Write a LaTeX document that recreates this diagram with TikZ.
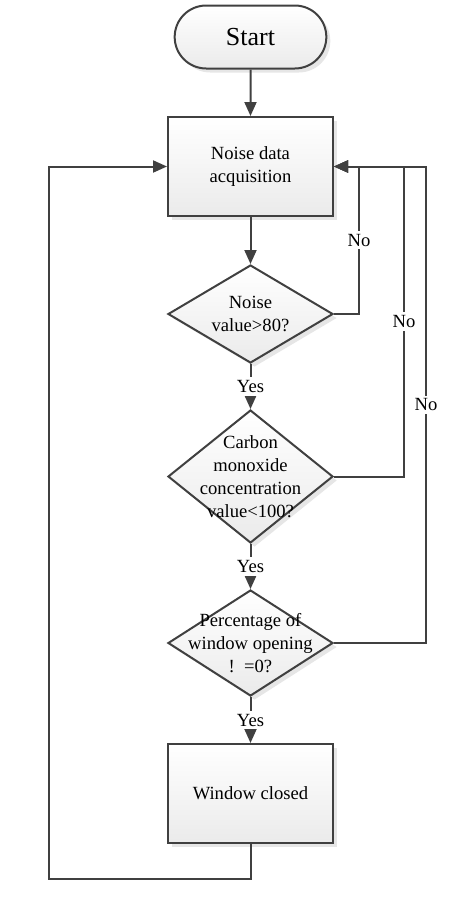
\documentclass[tikz,border=0pt]{standalone}
\usepackage{fontspec}
\setmainfont{Liberation Serif}
\usetikzlibrary{arrows.meta,shapes.geometric,shapes.misc,shadows}
\definecolor{linegray}{HTML}{404040}

\begin{document}
\begin{tikzpicture}[x=0.5pt, y=-0.5pt, line width=1pt, draw=linegray,
		>={Triangle[width=6pt,length=7pt]},
		every node/.style={font=\fontsize{9.3}{11.5}\selectfont, text=black},
		flow/.style={draw=linegray, line width=1pt, top color=white, bottom color=gray!16,
			drop shadow={shadow xshift=2pt, shadow yshift=-2pt, opacity=0.2}},
		term/.style={flow, rounded rectangle, minimum width=82.5pt, minimum height=31.5pt,
			font=\fontsize{13}{15}\selectfont},
		proc/.style={flow, rectangle, minimum width=82.5pt, minimum height=49.5pt, align=center},
		decide/.style={flow, diamond, inner sep=0pt, minimum width=82.5pt},
		tag/.style={fill=white, inner sep=1.5pt}]
	\useasboundingbox (0, 0) rectangle (474, 900);
	\node[term] (start) at (250.5, 37) {Start};
	\node[proc] (acq) at (250.5, 166.5) {Noise data\\acquisition};
	\node[decide, minimum height=49pt,
		label={[align=center]center:{Noise\\value>80?}}] (noise) at (250.5, 314) {};
	\node[decide, minimum height=66.5pt,
		label={[align=center]center:{Carbon\\monoxide\\concentration\\value<100?}}] (co) at (250.5, 476.5) {};
	\node[decide, minimum height=53pt,
		label={[align=center]center:{Percentage of\\window opening\\!\ \ =0?}}] (win) at (250.5, 643) {};
	\node[proc] (closed) at (250.5, 793.5) {Window closed};
	\coordinate (r1) at (359, 166.5);
	\coordinate (r2) at (404, 166.5);
	\coordinate (r3) at (426, 166.5);
	\coordinate (lb) at (49, 879);
	\draw[->] (start) -- (acq);
	\draw[->] (acq) -- (noise);
	\draw[->] (noise) -- node[tag] {Yes} (co);
	\draw[->] (co) -- node[tag] {Yes} (win);
	\draw[->] (win) -- node[tag] {Yes} (closed);
	\draw[->] (noise.east) -| node[tag, pos=0.75] {No} (r1) -- (acq.east);
	\draw[->] (co.east) -| node[tag, pos=0.75] {No} (r2) -- (acq.east);
	\draw[->] (win.east) -| node[tag, pos=0.75] {No} (r3) -- (acq.east);
	\draw[->] (closed.south) |- (lb) |- (acq.west);
\end{tikzpicture}
\end{document}
